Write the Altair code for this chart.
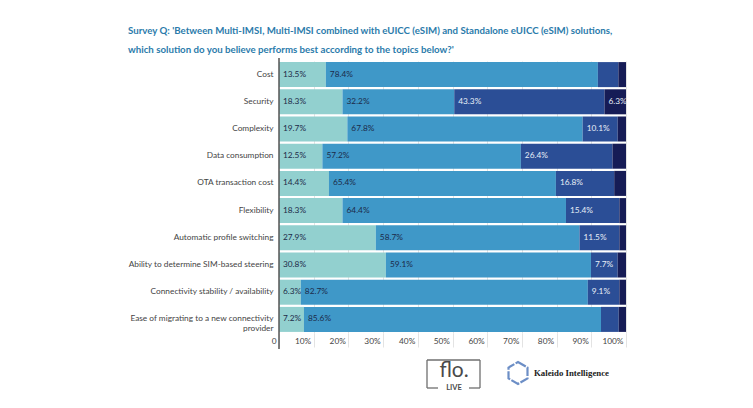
import altair as alt
import pandas as pd

# Survey topics (top to bottom)
categories = [
    "Cost",
    "Security",
    "Complexity",
    "Data consumption",
    "OTA transaction cost",
    "Flexibility",
    "Automatic profile switching",
    "Ability to determine SIM-based steering",
    "Connectivity stability / availability",
    "Ease of migrating to a new connectivity provider",
]

# Share of respondents per answer (%)
multi_imsi = [13.5, 18.3, 19.7, 12.5, 14.4, 18.3, 27.9, 30.8, 6.3, 7.2]
multi_imsi_euicc = [78.4, 32.2, 67.8, 57.2, 65.4, 64.4, 58.7, 59.1, 82.7, 85.6]
standalone_euicc = [5.9, 43.3, 10.1, 26.4, 16.8, 15.4, 11.5, 7.7, 9.1, 5.1]
no_answer = [2.2, 6.3, 2.4, 3.9, 3.4, 1.9, 1.9, 2.4, 1.9, 2.1]

# x-axis tick positions (%)
x_ticks = [0, 10, 20, 30, 40, 50, 60, 70, 80, 90, 100]

series_names = ["Multi-IMSI", "Multi-IMSI + eUICC", "Standalone eUICC", "Other"]
series_values = [multi_imsi, multi_imsi_euicc, standalone_euicc, no_answer]
series_colors = ["#92d0cf", "#3f98c8", "#2b4e96", "#161c56"]
label_colors = ["#1c2a48", "#1c2a48", "#e8eef6", "#e8eef6"]

title_lines = [
    "Survey Q: 'Between Multi-IMSI, Multi-IMSI combined with eUICC (eSIM) and Standalone eUICC (eSIM) solutions,",
    "which solution do you believe performs best according to the topics below?'",
]

rows = []
for s, (name, vals) in enumerate(zip(series_names, series_values)):
    for cat, v in zip(categories, vals):
        rows.append({"category": cat, "series": name, "order": s, "value": v,
                     "tcolor": label_colors[s]})
df = pd.DataFrame(rows)

W, H = 347, 272
FONT = "Lato"
FS = 8.3

x_axis = alt.Axis(
    values=x_ticks, grid=True, gridColor="#e3e3e3",
    domain=False, ticks=True, tickSize=14, tickColor="#e3e3e3",
    labelAlign="right", labelOffset=-3, labelPadding=-11,
    labelOverlap=False, labelBound=False, labelFlush=False,
    labelFontSize=FS, labelColor="#444444", labelFont=FONT,
    labelExpr="datum.value == 0 ? '0' : datum.value + '%'",
)
y_axis = alt.Axis(
    domain=False, ticks=False, labelPadding=6, labelFontSize=FS,
    labelColor="#444444", labelFont=FONT, labelLimit=250, labelLineHeight=10,
    labelExpr="datum.label == 'Ease of migrating to a new connectivity provider'"
              " ? ['Ease of migrating to a new connectivity', 'provider'] : datum.label",
)
x_scale = alt.Scale(domain=[0, 100], nice=False, clamp=True)
y_scale = alt.Scale(paddingInner=0.08, paddingOuter=0.04)

base = alt.Chart(df).transform_stack(
    stack="value", groupby=["category"], sort=[alt.SortField("order")],
    as_=["x0", "x1"],
)

bars = base.mark_bar(stroke=None).encode(
    x=alt.X("x0:Q", title=None, scale=x_scale, axis=x_axis),
    x2="x1:Q",
    y=alt.Y("category:N", sort=categories, title=None, scale=y_scale, axis=y_axis),
    color=alt.Color("series:N", sort=series_names,
                    scale=alt.Scale(domain=series_names, range=series_colors),
                    legend=None),
)

labels = base.transform_filter("datum.value >= 6.2").transform_calculate(
    txt="format(datum.value, '.1f') + '%'"
).mark_text(align="left", baseline="middle", dx=4, fontSize=FS, font=FONT).encode(
    x=alt.X("x0:Q", title=None, scale=x_scale, axis=x_axis),
    y=alt.Y("category:N", sort=categories, title=None, scale=y_scale, axis=y_axis),
    text="txt:N",
    color=alt.Color("tcolor:N", scale=None),
)

# vertical baseline at 0
axis_line = alt.Chart(pd.DataFrame({"a": [0]})).mark_rule(
    color="#555555", strokeWidth=1.5
).encode(x=alt.value(0), y=alt.value(-3), y2=alt.value(H + 16))


def text_at(text, xpos, ypos, **kw):
    return alt.Chart(pd.DataFrame({"t": [text]})).mark_text(
        baseline="middle", **kw
    ).encode(x=alt.value(xpos), y=alt.value(ypos), text="t:N")


def rule_at(x1, y1, x2, y2, **kw):
    return alt.Chart(pd.DataFrame({"a": [0]})).mark_rule(**kw).encode(
        x=alt.value(x1), x2=alt.value(x2), y=alt.value(y1), y2=alt.value(y2)
    )


title_style = dict(align="left", font=FONT, fontSize=9.7, fontWeight="bold",
                   color="#2b7bab")
title1 = text_at(title_lines[0], -151, -30, **title_style)
title2 = text_at(title_lines[1], -151, -11, **title_style)

# flo.LIVE logo
frame_style = dict(color="#6f6f6f", strokeWidth=1.3)
flo_frame = [
    rule_at(148, 299, 201, 299, **frame_style),
    rule_at(148, 299, 148, 327, **frame_style),
    rule_at(201, 299, 201, 327, **frame_style),
    rule_at(148, 327, 159, 327, **frame_style),
    rule_at(190, 327, 201, 327, **frame_style),
]
flo_text = text_at("flo.", 175, 310, align="center", font=FONT, fontSize=21,
                   color="#4a4a4a")
live_text = text_at("LIVE", 175, 327, align="center", font=FONT, fontSize=7.5,
                    fontWeight="bold", color="#4a4a4a")

# Kaleido Intelligence logo
hexagon = "M0,-1 L0.866,-0.5 L0.866,0.5 L0,1 L-0.866,0.5 L-0.866,-0.5 Z"
kal_mark = alt.Chart(pd.DataFrame({"a": [0]})).mark_point(
    shape=hexagon, size=480, filled=False, color="#2f5fae", strokeWidth=2.2,
    strokeDash=[9, 1.5],
).encode(x=alt.value(239), y=alt.value(312))
kal_text = text_at("Kaleido Intelligence", 255, 312, align="left",
                   font="Liberation Serif", fontSize=8.8, fontWeight="bold",
                   color="#222222")

chart = alt.layer(
    bars, labels, axis_line, title1, title2, *flo_frame, flo_text, live_text,
    kal_mark, kal_text,
).resolve_scale(color="independent").properties(
    width=W, height=H,
    autosize=alt.AutoSizeParams(type="none"),
    padding={"left": 279, "top": 61, "right": 127, "bottom": 75},
    background="white",
).configure_view(stroke=None)

chart.save("out.html", embed_options={"renderer": "svg", "actions": False})
